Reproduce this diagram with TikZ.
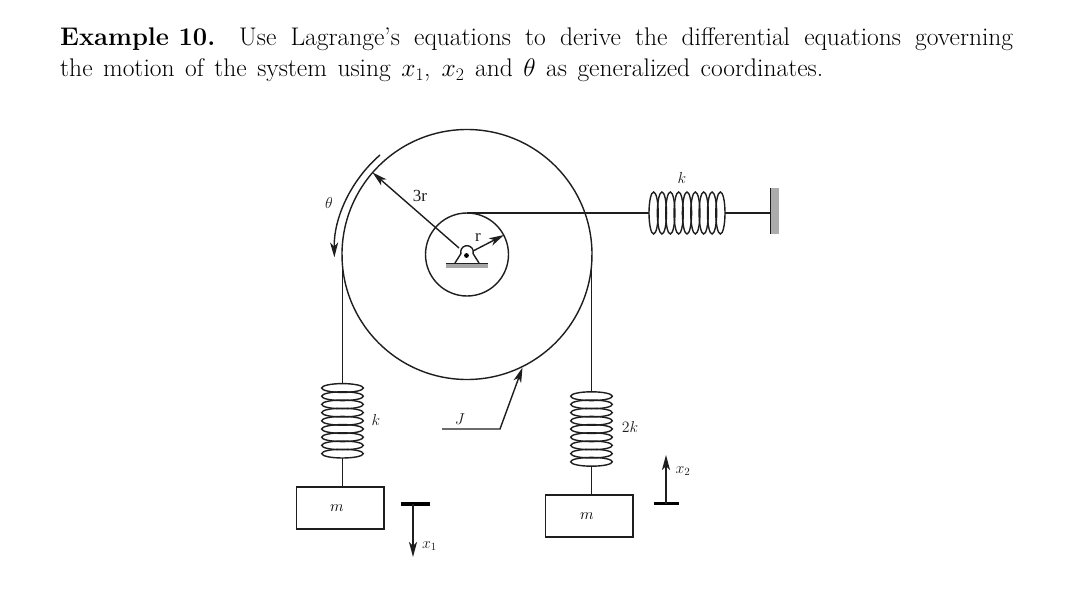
\documentclass[tikz,border=0pt]{standalone}
\usepackage{graphicx}
\usepackage{fontspec}
\newfontfamily\timesf{Liberation Serif}
\usetikzlibrary{arrows.meta}
\definecolor{ink}{HTML}{1E1E1E}
\newcommand\lb[1]{\scalebox{1.1}{$#1$}}
\newcommand\tm[1]{\scalebox{1.025}{$#1$}}
\tikzset{
  ln/.style={draw=ink,line width=1.4pt},
  tip/.style={-{Stealth[length=15pt,width=8pt,inset=4pt]}},
  massbox/.style={draw=ink,line width=1.5pt,minimum width=87.5pt,minimum height=42pt,inner sep=0pt,font=\Large},
  lab/.style={inner sep=0pt,text=ink,font=\Large},
  rmlab/.style={inner sep=0pt,text=ink,font=\timesf\fontsize{17}{19}\selectfont},
  title/.style={inner sep=0pt,anchor=base west,text=black,font=\Huge\fontsize{25.5}{30}\selectfont},
  bar/.style={draw=black,line width=3.6pt},
  coil/.style={draw=ink,line width=1.4pt}
}
\begin{document}
\begin{tikzpicture}[x=1pt,y=-1pt]
\useasboundingbox[fill=white] (0,0) rectangle (1071,591);
% title
\node[title] (t1) at (60,46) {\makebox[179pt][l]{\textbf{Example 10.}}\makebox[774pt][s]{Use Lagrange's equations to derive the differential equations governing}};
\node[title] (t2) at (60,77) {\makebox[763pt][s]{the motion of the system using \tm{x_1}, \tm{x_2} and \tm{\theta} as generalized coordinates.}};
% pulley
\coordinate (c) at (467,254.5);
\node[circle,ln,minimum size=250pt,inner sep=0pt] (big) at (c) {};
\node[circle,ln,minimum size=83pt,inner sep=0pt] (small) at (c) {};
% support
\fill[gray!70] (446,263.5) rectangle (488,267.5);
\draw[draw=ink,line width=1.6pt] (446,263.5) -- (488,263.5);
\draw[ln] (455,263) -- (460.9,253.6) arc[start angle=165,end angle=375,x radius=6.3,y radius=6.3] -- (479,263);
\fill[black] (466.5,255.5) circle (2.4pt);
% radii
\coordinate (bigtip) at (372.5,172.5);
\coordinate (smalltip) at (504,235);
\coordinate (hubA) at (459,248);
\coordinate (hubB) at (474,250.5);
\draw[ln,tip] (hubA) -- (bigtip);
\draw[ln,tip] (hubB) -- (smalltip);
\node[rmlab] (l3r) at (420,196) {3r};
\node[rmlab] (lr) at (478,237) {r};
% theta
\coordinate (thA) at (380,155);
\draw[ln,tip] (thA) arc[start angle=229,end angle=179,x radius=132.7,y radius=132.7];
\node[lab] (lth) at (329,203) {\lb{\theta}};
% top rope and horizontal spring
\coordinate (topT) at (467,213);
\coordinate (hsL) at (649,213);
\coordinate (hsR) at (725,213);
\coordinate (wall) at (770.5,213);
\draw[ln] (topT) -- (hsL);
\draw[ln] (hsR) -- (wall);
\foreach \i in {0,...,8}{
  \draw[coil] ({649+4.6+\i*8.35},213) ellipse[x radius=4.6,y radius=21];
}
\fill[gray!65] (770.5,188) rectangle (779,233.5);
\draw[draw=ink,line width=1.5pt] (770.5,188) -- (770.5,233.5);
\node[lab] (lk3) at (682,178) {\lb{k}};
% left rope, spring, mass
\coordinate (lrA) at (342.5,255);
\coordinate (lsT) at (342.5,383.5);
\coordinate (lsB) at (342.5,458);
\node[massbox] (m1) at (340.3,508) {\hspace*{-7pt}\lb{m}};
\draw[ln] (lrA) -- (lsT);
\draw[ln] (lsB) -- (lsB |- m1.north);
\foreach \i in {0,...,8}{
  \draw[coil] (342.5,{388+\i*8.2}) ellipse[x radius=20.8,y radius=4.4];
}
\node[lab] (lk1) at (376,420) {\lb{k}};
% right rope, spring, mass
\coordinate (rrA) at (591.5,255);
\coordinate (rsT) at (591.5,392);
\coordinate (rsB) at (591.5,466);
\node[massbox] (m2) at (589.3,516.2) {\hspace*{-5pt}\lb{m}};
\draw[ln] (rrA) -- (rsT);
\draw[ln] (rsB) -- (rsB |- m2.north);
\foreach \i in {0,...,8}{
  \draw[coil] (591.5,{396.2+\i*8.2}) ellipse[x radius=20.8,y radius=4.4];
}
\node[lab] (lk2) at (630,427) {\lb{2k}};
% J leader
\coordinate (jA) at (442,429);
\coordinate (jB) at (500,429);
\coordinate (jC) at (522.5,367.5);
\draw[ln,tip] (jA) -- (jB) -- (jC);
\node[lab] (lJ) at (460,419) {\lb{J}};
% x1
\coordinate (x1L) at (400.7,503.7);
\coordinate (x1R) at (429.7,503.7);
\coordinate (x1M) at (413,503.7);
\coordinate (x1E) at (413,557);
\draw[bar] (x1L) -- (x1R);
\draw[ln,tip] (x1M) -- (x1E);
\node[lab] (lx1) at (429.5,546) {\lb{x_1}};
% x2
\coordinate (x2L) at (654,503.5);
\coordinate (x2R) at (679,503.5);
\coordinate (x2M) at (666,503.5);
\coordinate (x2E) at (666,455);
\draw[bar] (x2L) -- (x2R);
\draw[ln,tip] (x2M) -- (x2E);
\node[lab] (lx2) at (683,471) {\lb{x_2}};
\end{tikzpicture}
\end{document}
